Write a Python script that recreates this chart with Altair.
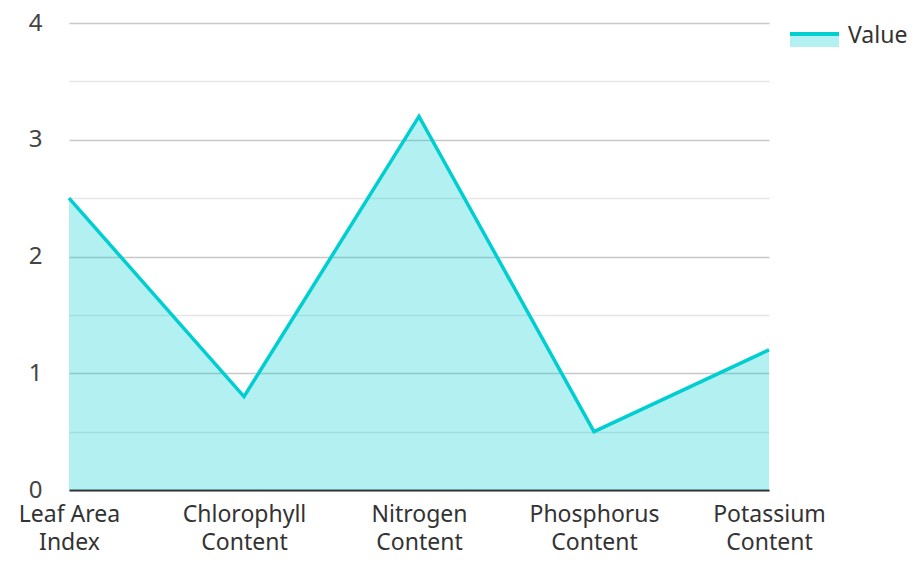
import altair as alt
import pandas as pd

categories = ["Leaf Area\nIndex", "Chlorophyll\nContent", "Nitrogen\nContent",
              "Phosphorus\nContent", "Potassium\nContent"]
values = [2.5, 0.8, 3.2, 0.5, 1.2]
y_ticks = [0, 0.5, 1, 1.5, 2, 2.5, 3, 3.5, 4]

df = pd.DataFrame({"category": categories, "value": values})

COLOR = "#00CED1"
FONT = "Noto Sans"
FS = 24

x_enc = alt.X("category:N", sort=categories, title=None,
              scale=alt.Scale(type="point", padding=0),
              axis=alt.Axis(labelExpr="split(datum.label, '\\n')", labelAngle=0,
                            labelFontSize=23, labelColor="#333333", labelFont=FONT,
                            labelLineHeight=28, labelPadding=13, ticks=False,
                            domainColor="#333333", domainWidth=2, grid=False,
                            labelBaseline="top"))
y_enc = alt.Y("value:Q", title=None,
              scale=alt.Scale(domain=[0, 4], nice=False),
              axis=alt.Axis(values=y_ticks, ticks=False, domain=False,
                            labelExpr="datum.value % 1 === 0 ? format(datum.value, 'd') : ''",
                            labelFontSize=FS, labelColor="#444444", labelFont=FONT,
                            labelPadding=27,
                            gridColor={"condition": {"test": "datum.value % 1 !== 0",
                                                     "value": "#e6e6e6"},
                                       "value": "#c8c8c8"},
                            gridWidth=1.5))

base = alt.Chart(df)
area = base.mark_area(color=COLOR, opacity=0.3).encode(x=x_enc, y=y_enc)
line = base.mark_line(color=COLOR, strokeWidth=3.5).encode(x=x_enc, y=y_enc)

leg_df = pd.DataFrame({"label": ["Value"]})
leg_rect = alt.Chart(leg_df).mark_rect(color=COLOR, opacity=0.3).encode(
    x=alt.value(721), x2=alt.value(770), y=alt.value(10), y2=alt.value(24))
leg_rule = alt.Chart(leg_df).mark_rule(color=COLOR, strokeWidth=4).encode(
    x=alt.value(721), x2=alt.value(770), y=alt.value(11))
leg_text = alt.Chart(leg_df).mark_text(align="left", baseline="middle", fontSize=23,
                                       font=FONT, color="#333333").encode(
    x=alt.value(779), y=alt.value(13), text="label:N")

chart = alt.layer(area, line, leg_rect, leg_rule, leg_text).properties(
    width=700, height=467,
    padding={"left": 61, "top": 15, "right": 142, "bottom": 64},
    autosize=alt.AutoSizeParams(type="none"),
).configure_view(stroke=None)

chart.save("out.html", embed_options={"renderer": "svg", "actions": False})
